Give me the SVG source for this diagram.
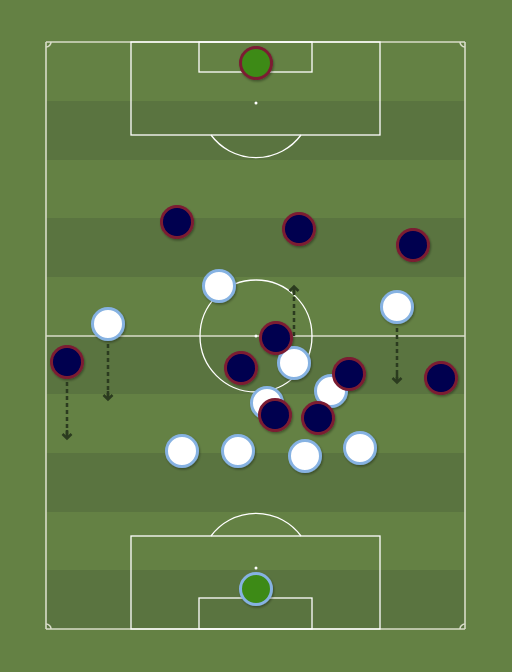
<svg xmlns="http://www.w3.org/2000/svg" width="512" height="672" viewBox="0 0 512 672">
<defs>
<style>
.line{fill:none;stroke:#ffffff;stroke-width:1.3}
.edge{fill:none;stroke:#d8dcc8;stroke-width:1.6}
.dark{fill:#5a7440}
.navy{fill:#000050;stroke:#7b1b33;stroke-width:3}
.white{fill:#ffffff;stroke:#86b2e2;stroke-width:3}
.gkA{fill:#3c8a18;stroke:#7b1b33;stroke-width:3}
.gkB{fill:#3c8a18;stroke:#86b2e2;stroke-width:3}
.run{fill:none;stroke:#2b3b1f;stroke-width:2.5;stroke-dasharray:4 3}
.head{fill:none;stroke:#2b3b1f;stroke-width:2.5;stroke-linejoin:miter}
</style>
<filter id="sh" x="-30%" y="-30%" width="160%" height="160%">
<feDropShadow dx="1" dy="1.5" stdDeviation="1.2" flood-color="#000" flood-opacity="0.35"/>
</filter>
<marker id="ah" viewBox="-6 -6 12 12" refX="3" refY="0" markerWidth="12" markerHeight="12" markerUnits="userSpaceOnUse" orient="auto">
<path d="M-1,-4.5 L3.5,0 L-1,4.5 M3.5,0 L-5,0" class="head"/>
</marker>
</defs>
<rect x="0" y="0" width="512" height="672" fill="#648144"/>
<g id="pitch">
<rect class="dark" x="46" y="101" width="419" height="59"/>
<rect class="dark" x="46" y="218" width="419" height="59"/>
<rect class="dark" x="46" y="336" width="419" height="58"/>
<rect class="dark" x="46" y="453" width="419" height="59"/>
<rect class="dark" x="46" y="570" width="419" height="59"/>
<line class="edge" x1="46" y1="42" x2="465" y2="42"/>
<line class="edge" x1="46" y1="629" x2="465" y2="629"/>
<line class="edge" x1="46" y1="42" x2="46" y2="629"/>
<line class="edge" x1="465" y1="42" x2="465" y2="629"/>
<line class="edge" x1="46" y1="336" x2="465" y2="336"/>
<circle class="line" cx="256" cy="336" r="56"/>
<circle cx="256" cy="336" r="1.5" fill="#fff"/>
<rect class="line" x="131" y="42" width="249" height="93"/>
<rect class="line" x="199" y="42" width="113" height="30"/>
<circle cx="256" cy="103" r="1.5" fill="#fff"/>
<path class="line" d="M211,135 A56,56 0 0 0 301,135"/>
<rect class="line" x="131" y="536" width="249" height="93"/>
<rect class="line" x="199" y="598" width="113" height="31"/>
<circle cx="256" cy="568" r="1.5" fill="#fff"/>
<path class="line" d="M211,536 A56,56 0 0 1 301,536"/>
<path class="edge" d="M46,47 A5,5 0 0 0 51,42"/>
<path class="edge" d="M460,42 A5,5 0 0 0 465,47"/>
<path class="edge" d="M46,624 A5,5 0 0 1 51,629"/>
<path class="edge" d="M460,629 A5,5 0 0 1 465,624"/>
</g>
<g id="connectors">
<line class="run" x1="67" y1="382" x2="67" y2="438" marker-end="url(#ah)"/>
<line class="run" x1="108" y1="344" x2="108" y2="399" marker-end="url(#ah)"/>
<line class="run" x1="397" y1="328" x2="397" y2="382" marker-end="url(#ah)"/>
<line class="run" x1="294" y1="336" x2="294" y2="287" marker-end="url(#ah)"/>
</g>
<g id="players" filter="url(#sh)">
<g id="gk-top"><circle class="gkA" cx="256" cy="63" r="15.5"/></g>
<g id="gk-bottom"><circle class="gkB" cx="256" cy="589" r="15.5"/></g>
<g id="w1"><circle class="white" cx="219" cy="286" r="15.5"/></g>
<g id="w2"><circle class="white" cx="397" cy="307" r="15.5"/></g>
<g id="w3"><circle class="white" cx="108" cy="324" r="15.5"/></g>
<g id="w4"><circle class="white" cx="294" cy="363" r="15.5"/></g>
<g id="w5"><circle class="white" cx="331" cy="391" r="15.5"/></g>
<g id="w6"><circle class="white" cx="267" cy="403" r="15.5"/></g>
<g id="w7"><circle class="white" cx="182" cy="451" r="15.5"/></g>
<g id="w8"><circle class="white" cx="238" cy="451" r="15.5"/></g>
<g id="w9"><circle class="white" cx="305" cy="456" r="15.5"/></g>
<g id="w10"><circle class="white" cx="360" cy="448" r="15.5"/></g>
<g id="n1"><circle class="navy" cx="177" cy="222" r="15.5"/></g>
<g id="n2"><circle class="navy" cx="299" cy="229" r="15.5"/></g>
<g id="n3"><circle class="navy" cx="413" cy="245" r="15.5"/></g>
<g id="n4"><circle class="navy" cx="276" cy="338" r="15.5"/></g>
<g id="n5"><circle class="navy" cx="241" cy="368" r="15.5"/></g>
<g id="n6"><circle class="navy" cx="349" cy="374" r="15.5"/></g>
<g id="n7"><circle class="navy" cx="441" cy="378" r="15.5"/></g>
<g id="n8"><circle class="navy" cx="275" cy="415" r="15.5"/></g>
<g id="n9"><circle class="navy" cx="318" cy="418" r="15.5"/></g>
<g id="n10"><circle class="navy" cx="67" cy="362" r="15.5"/></g>
</g>
</svg>
